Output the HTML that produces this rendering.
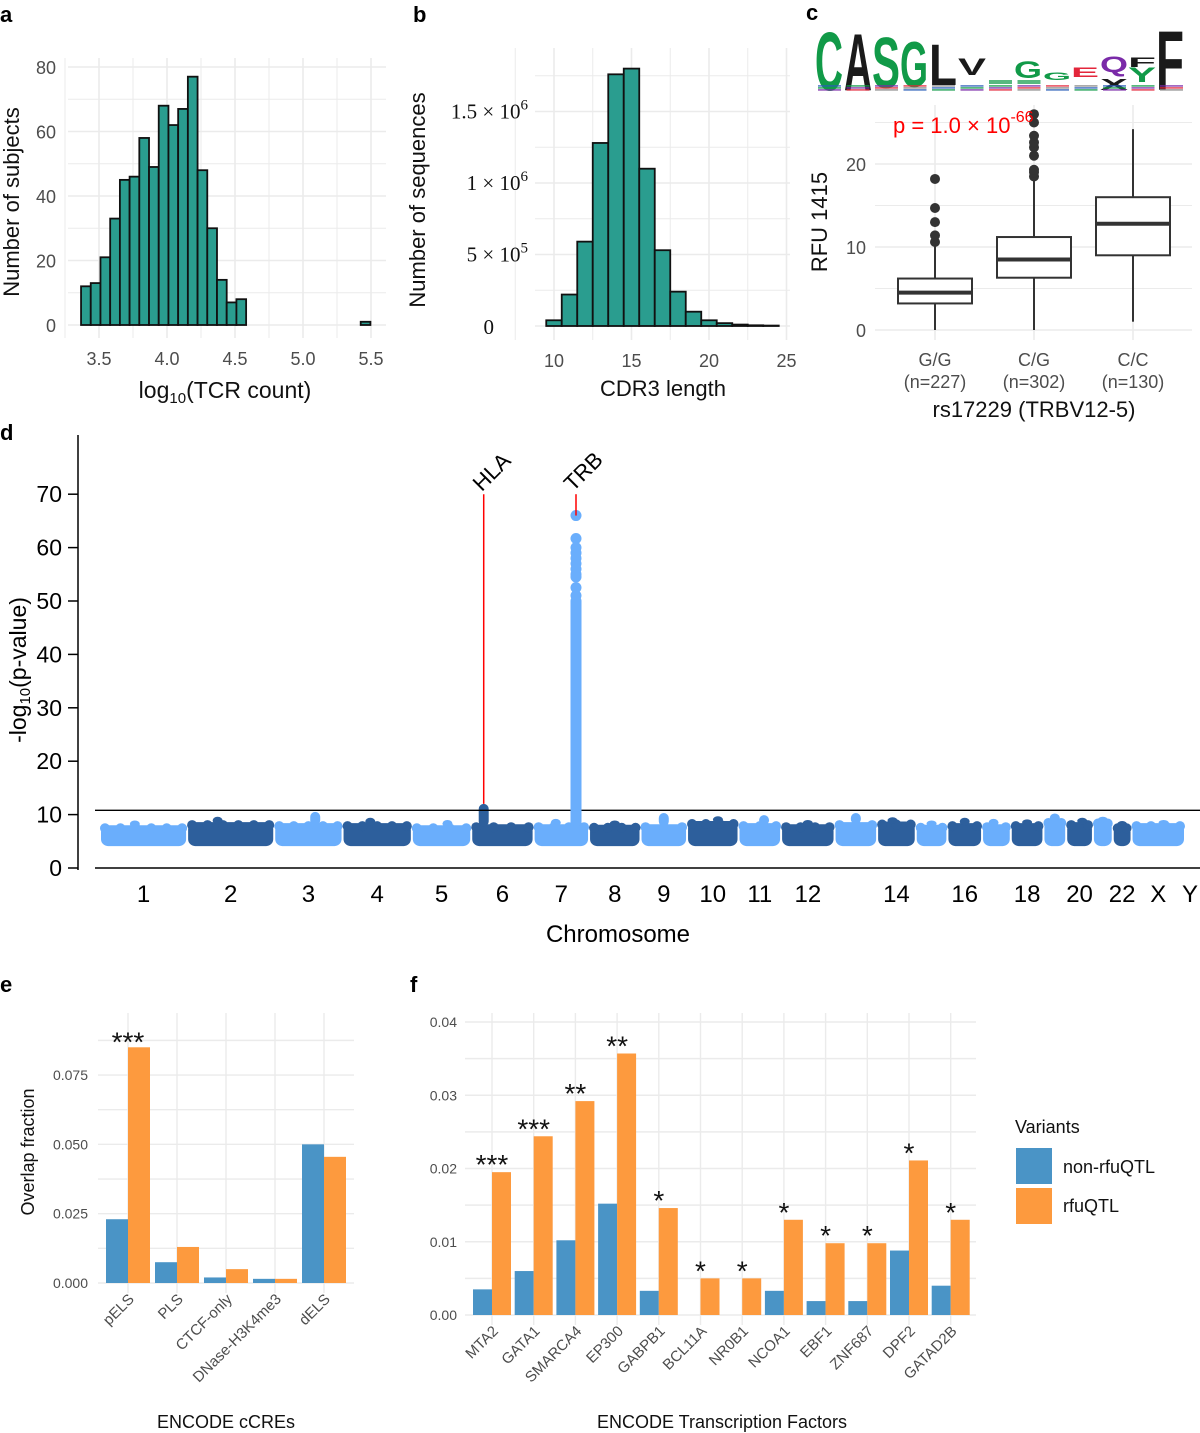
<!DOCTYPE html>
<html><head><meta charset="utf-8"><style>
html,body{margin:0;padding:0;background:#fff;}
svg{display:block;font-family:"Liberation Sans","DejaVu Sans",sans-serif;}
</style></head><body>
<svg id="fig" width="1200" height="1433" viewBox="0 0 1200 1433" xmlns="http://www.w3.org/2000/svg">
<g id="letters" font-weight="bold" font-size="22" fill="#000">
<text x="0" y="22">a</text>
<text x="413" y="22">b</text>
<text x="806" y="20">c</text>
<text x="0" y="440">d</text>
<text x="0" y="992">e</text>
<text x="410" y="992">f</text>
</g>
<g id="ga"></g>
<g id="gb"></g>
<g id="gc"></g>
<g id="gd"></g>
<g id="ge"></g>
<g id="gf"></g>
</svg>
<script>
// ---------- data ----------
const aBinStart = 3.368, aBinWidth = 0.0714;
const aCounts = [12,13,21,33,45,46,58,49,68,62,67,77,48,30,14,7,8];
const aOutlierX = 5.46, aOutlierCount = 1;
const aXTicks = ["3.5","4.0","4.5","5.0","5.5"];
const aYTicks = ["0","20","40","60","80"];

const bLengths = [10,11,12,13,14,15,16,17,18,19,20,21,22,23,24];
const bCounts = [0.4e5,2.2e5,5.9e5,12.8e5,17.6e5,18.0e5,11.0e5,5.3e5,2.4e5,1.0e5,0.4e5,0.2e5,0.1e5,0.05e5,0.03e5];
const bXTicks = ["10","15","20","25"];

const cGroups = ["G/G","C/G","C/C"];
const cNs = ["(n=227)","(n=302)","(n=130)"];
const cQ1 = [3.2,6.3,9.0];
const cMed = [4.5,8.5,12.8];
const cQ3 = [6.2,11.2,16.0];
const cLo = [0,0,1.0];
const cHi = [10.3,18.0,24.2];
const cOutliers = [[10.6,11.4,13.0,14.7,18.2],[18.5,19.0,19.3,21.0,22.0,22.6,23.4,25.0,26.0],[]];
const cYTicks = ["0","10","20"];

const chrNames = ["1","2","3","4","5","6","7","8","9","10","11","12","13","14","15","16","17","18","19","20","21","22","X"];
const chrLabels = ["1","2","3","4","5","6","7","8","9","10","11","12","","14","","16","","18","","20","","22","X"];
const chrTop = [8.6,9.2,9.0,9.0,8.6,8.8,8.8,8.7,8.8,9.4,9.0,8.8,9.2,9.3,8.7,9.0,8.8,9.0,9.6,9.2,9.5,8.6,9.0];
const chrPeak = [8.9,9.6,10.5,9.4,9.0,12.0,9.2,8.9,10.3,9.7,9.9,9.0,10.3,9.5,8.9,9.4,9.2,9.1,10.2,9.4,9.6,8.8,9.0];
const chrPeakFrac = [0.4,0.35,0.6,0.4,0.6,0.2,0.4,0.5,0.5,0.6,0.6,0.5,0.5,0.4,0.5,0.5,0.4,0.5,0.5,0.6,0.5,0.5,0.6];
const trbValues = [66,61.7,60,59,58,57,56,55,54.5,52.5,51,50,48,47,46,45,44,43,42,41,39,38,37,36,35,34,33,32,31,30,29,28,27,26,25,24,23,22,21,20,19,18,17,16,15,14,13,12,11,10,9];
const dYTicks = ["0","10","20","30","40","50","60","70"];
const threshold = 10.8, hlaValue = 12.0;

const eCats = ["pELS","PLS","CTCF-only","DNase-H3K4me3","dELS"];
const eNon = [0.023,0.0075,0.002,0.0015,0.050];
const eRfu = [0.085,0.013,0.005,0.0015,0.0455];
const eStars = ["***","","","",""];
const eYTicks = ["0.000","0.025","0.050","0.075"];

const fCats = ["MTA2","GATA1","SMARCA4","EP300","GABPB1","BCL11A","NR0B1","NCOA1","EBF1","ZNF687","DPF2","GATAD2B"];
const fNon = [0.0035,0.006,0.0102,0.0152,0.0033,0,0,0.0033,0.0019,0.0019,0.0088,0.004];
const fRfu = [0.0195,0.0244,0.0292,0.0357,0.0146,0.005,0.005,0.013,0.0098,0.0098,0.0211,0.013];
const fStars = ["***","***","**","**","*","*","*","*","*","*","*","*"];
const fYTicks = ["0.00","0.01","0.02","0.03","0.04"];

// ---------- helpers ----------
const NS="http://www.w3.org/2000/svg";
function mk(parent,tag,attrs,txt){const e=document.createElementNS(NS,tag);for(const k in attrs)e.setAttribute(k,attrs[k]);if(txt!==undefined)e.textContent=txt;parent.appendChild(e);return e;}
const GRID="#ebebeb", TEAL="#2a9d8f", BLUE="#4a94c6", ORANGE="#fd9a3e", TICK="#4d4d4d";

// ---------- panel a ----------
(function(){
 const g=document.getElementById('ga');
 const x=v=>99+(v-3.5)*136, y=v=>325-v*3.225;
 for(let v=3.25;v<=5.5;v+=0.25){mk(g,'line',{x1:x(v),x2:x(v),y1:58,y2:338,stroke:GRID,'stroke-width':v*4%2==0?1.6:1});}
 for(let v=0;v<=80;v+=10){mk(g,'line',{x1:68,x2:386,y1:y(v),y2:y(v),stroke:GRID,'stroke-width':v%20==0?1.6:1});}
 aCounts.forEach((c,i)=>{const x0=x(aBinStart+i*aBinWidth),x1=x(aBinStart+(i+1)*aBinWidth);
  const r=mk(g,'rect',{x:x0,y:y(c),width:x1-x0,height:y(0)-y(c),fill:TEAL,stroke:'#111','stroke-width':1.8});
  
  });
 const w=aBinWidth*136;
 const o=mk(g,'rect',{x:x(aOutlierX)-w/2,y:y(aOutlierCount),width:w,height:y(0)-y(aOutlierCount),fill:TEAL,stroke:'#111','stroke-width':1.8});
 
 
 aXTicks.forEach(t=>{mk(g,'text',{x:x(+t),y:365,'text-anchor':'middle','font-size':18,fill:TICK},t);});
 aYTicks.forEach(t=>{mk(g,'text',{x:56,y:y(+t)+7,'text-anchor':'end','font-size':18,fill:TICK},t);});
 const tt=mk(g,'text',{x:225,y:398,'text-anchor':'middle','font-size':23,fill:'#111',});
 tt.innerHTML='log<tspan font-size="15" dy="5">10</tspan><tspan dy="-5">(TCR count)</tspan>';
 mk(g,'text',{transform:'translate(19,202) rotate(-90)','text-anchor':'middle','font-size':22,fill:'#111',},'Number of subjects');
})();

// ---------- panel b ----------
(function(){
 const g=document.getElementById('gb');
 const x=v=>554+(v-10)*15.5, y=v=>326-v/5e5*71.5;
 for(let v=7.5;v<=25;v+=2.5){mk(g,'line',{x1:x(v),x2:x(v),y1:48,y2:340,stroke:GRID,'stroke-width':v%5==0?1.6:1});}
 for(let v=0;v<=1.9e6;v+=2.5e5){mk(g,'line',{x1:535,x2:790,y1:y(v),y2:y(v),stroke:GRID,'stroke-width':v%5e5==0?1.6:1});}
 bLengths.forEach((L,i)=>{const r=mk(g,'rect',{x:x(L-0.5),y:y(bCounts[i]),width:15.5,height:y(0)-y(bCounts[i]),fill:TEAL,stroke:'#111','stroke-width':1.8});
  
  });
 bXTicks.forEach(t=>{mk(g,'text',{x:x(+t),y:367,'text-anchor':'middle','font-size':18,fill:TICK},t);});
 const ser='font-family:"Liberation Serif",serif';
 mk(g,'text',{x:494,y:y(0)+8,'text-anchor':'end','font-size':21,fill:'#111',style:ser},'0');
 [["5 × 10","5",5e5],["1 × 10","6",1e6],["1.5 × 10","6",1.5e6]].forEach(a=>{const t=mk(g,'text',{x:528,y:y(a[2])+7,'text-anchor':'end','font-size':21,fill:'#111',style:ser});t.innerHTML=a[0]+'<tspan font-size="15" dy="-9">'+a[1]+'</tspan>';});
 mk(g,'text',{x:663,y:396,'text-anchor':'middle','font-size':22,fill:'#111',},'CDR3 length');
 mk(g,'text',{transform:'translate(425,200) rotate(-90)','text-anchor':'middle','font-size':22,fill:'#111',},'Number of sequences');
})();

// ---------- panel c ----------
(function(){
 const g=document.getElementById('gc');
 const logo=mk(g,'g',{'font-weight':'bold'});
 const GR="#119a48",BK="#1a1a1a",RD="#e3263b",PU="#7a2aa8";
 const L=[["C",815,30,90,GR],["A",844,32,90,BK],["S",872,36,88,GR],["G",900,40,87,GR],["L",929,43,85,BK],["V",958,58,75,BK],
 ["G",1014,61,78,GR],["G",1043,72,80,GR],["E",1071,67,77,RD],["Q",1100,56,72,PU],["X",1100,79,90,BK],["F",1128,57,67,BK],["Y",1128,67,82,GR],["F",1156,29,90,BK]];
 L.forEach(l=>{const h=l[3]-l[2];const s=h/0.72/40;mk(logo,'text',{x:0,y:0,'font-size':40,fill:l[4],textLength:28,lengthAdjust:'spacingAndGlyphs',transform:`translate(${l[1]},${l[3]}) scale(1,${s.toFixed(3)})`},l[0]);});
 const small=["#2a5cb8","#119a48","#7a2aa8","#e3263b","#888"];
 for(let i=0;i<13;i++){for(let k=0;k<3;k++){mk(logo,'rect',{x:815+i*28.5+3,y:85+k*2,width:23,height:1.8,fill:small[(i+k)%5],opacity:0.7});}}
 for(let i=6;i<8;i++){mk(logo,'rect',{x:815+i*28.5+3,y:80,width:23,height:4,fill:GR,opacity:0.7});}
 const x=i=>935+i*99, y=v=>330-v*8.3;
 [935,1034,1133].forEach(v=>mk(g,'line',{x1:v,x2:v,y1:105,y2:340,stroke:GRID,'stroke-width':1.6}));
 for(let v=0;v<=25;v+=5){mk(g,'line',{x1:875,x2:1192,y1:y(v),y2:y(v),stroke:GRID,'stroke-width':v%10==0?1.6:1});}
 cGroups.forEach((grp,i)=>{const cx=x(i);
  const gg=mk(g,'g',{});
  
  
  mk(gg,'line',{x1:cx,x2:cx,y1:y(cLo[i]),y2:y(cQ1[i]),stroke:'#333','stroke-width':2});
  mk(gg,'line',{x1:cx,x2:cx,y1:y(cQ3[i]),y2:y(cHi[i]),stroke:'#333','stroke-width':2});
  mk(gg,'rect',{x:cx-37,y:y(cQ3[i]),width:74,height:y(cQ1[i])-y(cQ3[i]),fill:'#fff',stroke:'#333','stroke-width':2});
  mk(gg,'line',{x1:cx-37,x2:cx+37,y1:y(cMed[i]),y2:y(cMed[i]),stroke:'#333','stroke-width':4});
  cOutliers[i].forEach(o=>mk(gg,'circle',{cx:cx,cy:y(o),r:5,fill:'#333'}));
  mk(g,'text',{x:cx,y:366,'text-anchor':'middle','font-size':18,fill:TICK},grp);
  mk(g,'text',{x:cx,y:388,'text-anchor':'middle','font-size':18,fill:TICK},cNs[i]);
 });
 cYTicks.forEach(t=>mk(g,'text',{x:866,y:y(+t)+7,'text-anchor':'end','font-size':18,fill:TICK},t));
 const p=mk(g,'text',{x:893,y:133,'font-size':22,fill:'#f00',});
 p.innerHTML='p =  1.0  ×  10<tspan font-size="16" dy="-11">-66</tspan>';
 mk(g,'text',{x:1034,y:417,'text-anchor':'middle','font-size':22,fill:'#111',},'rs17229 (TRBV12-5)');
 mk(g,'text',{transform:'translate(827,222) rotate(-90)','text-anchor':'middle','font-size':22,fill:'#111',},'RFU 1415');
})();

// ---------- panel d ----------
(function(){
 const g=document.getElementById('gd');
 const y=v=>868-v*5.34;
 const chrLen=[88,88,69,70,60,63,56,52,47,52,43,54,43,39,32,35,29,33,23,27,20,19,54];
 const x0=100, total=chrLen.reduce((a,b)=>a+b,0), scale=(1185-100)/total;
 let cum=x0; const spans=chrLen.map(l=>{const s=[cum,cum+l*scale];cum+=l*scale;return s;});
 mk(g,'line',{x1:78,x2:78,y1:435,y2:870,stroke:'#000','stroke-width':1.5});
 dYTicks.forEach(t=>{mk(g,'line',{x1:68,x2:78,y1:y(+t),y2:y(+t),stroke:'#000','stroke-width':1.5});
  mk(g,'text',{x:62,y:y(+t)+8,'text-anchor':'end','font-size':23,fill:'#000'},t);});
 mk(g,'line',{x1:95,x2:1200,y1:868,y2:868,stroke:'#000','stroke-width':1.5});
 chrNames.forEach((c,i)=>{const s=spans[i];const col=i%2==0?"#6aaefc":"#2d5f9c";
  const gg=mk(g,'g',{fill:col});
  
  
  mk(gg,'rect',{x:s[0]+1,y:y(chrTop[i]-0.6),width:s[1]-s[0]-2,height:y(4.1)-y(chrTop[i]-0.6),rx:7});
  const n=Math.max(2,Math.round((s[1]-s[0])/14));
  for(let k=0;k<n;k++){const px=s[0]+5+k*(s[1]-s[0]-10)/(n-1);mk(gg,'circle',{cx:px,cy:y(chrTop[i]-0.6)+3,r:5});}
  const pk=s[0]+chrPeakFrac[i]*(s[1]-s[0]);
  mk(gg,'rect',{x:pk-5,y:y(chrPeak[i]),width:10,height:y(chrTop[i]-1)-y(chrPeak[i]),rx:5});
  if(chrLabels[i]) mk(g,'text',{x:(s[0]+s[1])/2,y:902,'text-anchor':'middle','font-size':24,fill:'#000'},chrLabels[i]);
 });
 mk(g,'text',{x:1190,y:902,'text-anchor':'middle','font-size':24,fill:'#000'},'Y');
 mk(g,'line',{x1:95,x2:1200,y1:y(threshold),y2:y(threshold),stroke:'#000','stroke-width':1.3,});
 const trbX=576;
 trbValues.forEach(v=>{const c=mk(g,'circle',{cx:trbX,cy:y(v),r:5.5,fill:'#6aaefc'});
  
  });
 mk(g,'rect',{x:trbX-5.5,y:y(50),width:11,height:y(8)-y(50),fill:'#6aaefc'});
 const hlaX=spans[5][0]+chrPeakFrac[5]*(spans[5][1]-spans[5][0]);
 mk(g,'line',{x1:hlaX,x2:hlaX,y1:y(70),y2:y(hlaValue),stroke:'#f00','stroke-width':1.5,});
 mk(g,'line',{x1:trbX,x2:trbX,y1:y(70),y2:y(trbValues[0]),stroke:'#f00','stroke-width':1.5,});
 mk(g,'text',{transform:`translate(${hlaX-2},${y(70)-2}) rotate(-45)`,'font-size':22,fill:'#000',},'HLA');
 mk(g,'text',{transform:`translate(${trbX-3},${y(70)-2}) rotate(-45)`,'font-size':22,fill:'#000',},'TRB');
 mk(g,'text',{x:618,y:942,'text-anchor':'middle','font-size':24,fill:'#000',},'Chromosome');
 const yt=mk(g,'text',{transform:'translate(26,670) rotate(-90)','text-anchor':'middle','font-size':23,fill:'#000',});
 yt.innerHTML='-log<tspan font-size="15" dy="4">10</tspan><tspan dy="-4">(p-value)</tspan>';
})();

// ---------- panel e ----------
(function(){
 const g=document.getElementById('ge');
 const x=i=>128+i*49, y=v=>1283-v*2773;
 eCats.forEach((c,i)=>mk(g,'line',{x1:x(i),x2:x(i),y1:1013,y2:1293,stroke:GRID,'stroke-width':1.4}));
 for(let v=0;v<=0.0925;v+=0.0125){mk(g,'line',{x1:98,x2:354,y1:y(v),y2:y(v),stroke:GRID,'stroke-width':1.4});}
 eCats.forEach((c,i)=>{
  const b=mk(g,'rect',{x:x(i)-22,y:y(eNon[i]),width:22,height:y(0)-y(eNon[i]),fill:BLUE});
  
  
  const o=mk(g,'rect',{x:x(i),y:y(eRfu[i]),width:22,height:y(0)-y(eRfu[i]),fill:ORANGE});
  
  
  if(eStars[i]) mk(g,'text',{x:x(i),y:y(eRfu[i])+4,'text-anchor':'middle','font-size':28,fill:'#111'},eStars[i]);
  mk(g,'text',{transform:`translate(${x(i)+7},${1300}) rotate(-45)`,'text-anchor':'end','font-size':15,fill:TICK},c);
 });
 eYTicks.forEach(t=>mk(g,'text',{x:88,y:y(+t)+5,'text-anchor':'end','font-size':14,fill:TICK},t));
 mk(g,'text',{x:226,y:1428,'text-anchor':'middle','font-size':18,fill:'#111',},'ENCODE cCREs');
 mk(g,'text',{transform:'translate(34,1152) rotate(-90)','text-anchor':'middle','font-size':18,fill:'#111',},'Overlap fraction');
})();

// ---------- panel f ----------
(function(){
 const g=document.getElementById('gf');
 const x=i=>492+i*41.7, y=v=>1315-v*7325;
 fCats.forEach((c,i)=>mk(g,'line',{x1:x(i),x2:x(i),y1:1013,y2:1325,stroke:GRID,'stroke-width':1.4}));
 for(let v=0;v<=0.04001;v+=0.005){mk(g,'line',{x1:465,x2:976,y1:y(v),y2:y(v),stroke:GRID,'stroke-width':1.4});}
 fCats.forEach((c,i)=>{
  const b=mk(g,'rect',{x:x(i)-19,y:y(fNon[i]),width:19,height:y(0)-y(fNon[i]),fill:BLUE});
  
  
  const o=mk(g,'rect',{x:x(i),y:y(fRfu[i]),width:19,height:y(0)-y(fRfu[i]),fill:ORANGE});
  
  
  mk(g,'text',{x:x(i),y:y(fRfu[i])+2,'text-anchor':'middle','font-size':28,fill:'#111'},fStars[i]);
  mk(g,'text',{transform:`translate(${x(i)+7},${1332}) rotate(-45)`,'text-anchor':'end','font-size':15,fill:TICK},c);
 });
 fYTicks.forEach(t=>mk(g,'text',{x:457,y:y(+t)+5,'text-anchor':'end','font-size':14,fill:TICK},t));
 mk(g,'text',{x:722,y:1428,'text-anchor':'middle','font-size':18,fill:'#111',},'ENCODE Transcription Factors');
 const lg=mk(g,'g',{});
 mk(lg,'text',{x:1015,y:1133,'font-size':18,fill:'#111'},'Variants');
 mk(lg,'rect',{x:1016,y:1148,width:36,height:36,fill:BLUE,});
 mk(lg,'text',{x:1063,y:1173,'font-size':18,fill:'#111',},'non-rfuQTL');
 mk(lg,'rect',{x:1016,y:1188,width:36,height:36,fill:ORANGE,});
 mk(lg,'text',{x:1063,y:1212,'font-size':18,fill:'#111',},'rfuQTL');
})();
</script>
</body></html>
